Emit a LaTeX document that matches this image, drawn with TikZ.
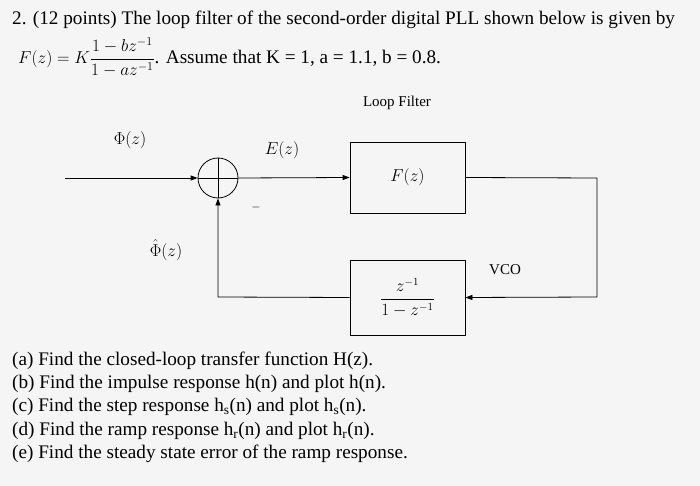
\documentclass[tikz,border=0pt]{standalone}
\usepackage{amsmath}
\usepackage{fontspec}
\setmainfont{Liberation Serif}
\usetikzlibrary{arrows.meta}
\begin{document}
\begin{tikzpicture}[x=1pt,y=-1pt,
  blk/.style={draw,line width=0.8pt,minimum width=115pt},
  conn/.style={line width=0.8pt},
  arr/.style={conn,-{Triangle[length=7pt,width=5pt]}},
  txt/.style={anchor=west,inner sep=0pt,font=\fontsize{19.2}{21}\selectfont}]
\fill[black!4] (0,0) rectangle (700,486);
\node[txt] (l1) at (12,20) {2. (12 points) The loop filter of the second-order digital PLL shown below is given by};
\node[txt,font=\fontsize{17}{19}\selectfont] (l2) at (18,57) {$F(z)=K\dfrac{1-bz^{-1}}{1-az^{-1}}$\fontsize{19.2}{21}\selectfont. Assume that K = 1, a = 1.1, b = 0.8.};
\node[font=\fontsize{15}{17}\selectfont] (lf) at (397,103) {Loop Filter};
\node[font=\fontsize{18}{20}\selectfont] (phi) at (130,140) {$\Phi(z)$};
\node[font=\fontsize{18}{20}\selectfont] (ez) at (282,150) {$E(z)$};
\node[font=\fontsize{18}{20}\selectfont] (phih) at (166,250) {$\hat\Phi(z)$};
\node[font=\fontsize{13}{15}\selectfont] (minus) at (256,208) {$-$};
\node[font=\fontsize{15}{17}\selectfont] (vcol) at (505,270) {VCO};
\node[blk,minimum height=71pt] (F) at (407.5,177.5) {\fontsize{18}{20}\selectfont $F(z)$};
\node[blk,minimum height=75pt] (V) at (407.5,297.5) {\fontsize{16}{18}\selectfont $\dfrac{z^{-1}}{1-z^{-1}}$};
\node[draw,circle,line width=0.8pt,minimum size=40pt,inner sep=0pt] (S) at (218,178) {};
\draw[conn] (S.north)--(S.south) (S.west)--(S.east);
\coordinate (in) at (65,178);
\coordinate (c1) at (597,178);
\coordinate (c2) at (597,297);
\coordinate (c3) at (218,297);
\draw[arr] (in)--(S.west);
\draw[arr] (S.east)--(F.west);
\draw[arr] (F.east)--(c1)--(c2)--(V.east);
\draw[arr] (V.west)--(c3)--(S.south);
\node[txt] (qa) at (12,361) {(a) Find the closed-loop transfer function H(z).};
\node[txt] (qb) at (12,384) {(b) Find the impulse response h(n) and plot h(n).};
\node[txt] (qc) at (12,407) {(c) Find the step response h$_\mathrm{s}$(n) and plot h$_\mathrm{s}$(n).};
\node[txt] (qd) at (12,431) {(d) Find the ramp response h$_\mathrm{r}$(n) and plot h$_\mathrm{r}$(n).};
\node[txt] (qe) at (12,454) {(e) Find the steady state error of the ramp response.};
\end{tikzpicture}
\end{document}
